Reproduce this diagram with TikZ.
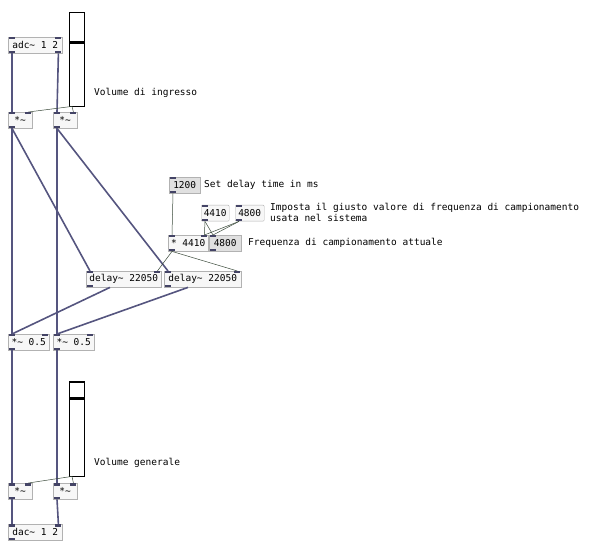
\documentclass[tikz,border=0pt]{standalone}
\usepackage{fontspec}
\setmonofont{DejaVu Sans Mono}
\usetikzlibrary{positioning}
\definecolor{sig}{HTML}{55557F}
\definecolor{ctl}{HTML}{3A4A3A}
\tikzset{
  obj/.style={draw=black!30, fill=black!3, anchor=north west, inner sep=1.5pt,
    minimum height=16pt, font=\ttfamily\fontsize{9.5}{10}\selectfont, align=left},
  numbox/.style={obj, fill=black!12},
  msgbox/.style={obj, rounded corners=1pt},
  label/.style={anchor=north west, inner sep=0pt, font=\ttfamily\fontsize{9.5}{11}\selectfont, align=left},
  signal/.style={draw=sig, line width=1.6pt},
  control/.style={draw=ctl, line width=0.5pt},
  port/.style={fill=sig!80!black}
}
\begin{document}
\begin{tikzpicture}[x=1pt,y=-1pt]
\useasboundingbox (0,0) rectangle (611,556);

% objects
\node[obj, minimum width=54pt] (adc) at (8,37) {adc\~{} 1 2};
\node[obj, minimum width=24pt] (multL) at (8,112) {*\~{}};
\node[obj, minimum width=24pt] (multR) at (53,112) {*\~{}};
\node[numbox, minimum width=31pt] (dtime) at (169,177) {1200};
\node[msgbox, minimum width=28pt] (msgA) at (201,205) {4410};
\node[msgbox, minimum width=29pt] (msgB) at (235,205) {4800};
\node[obj, minimum width=40pt] (sr) at (168,235) {* 4410};
\node[numbox, minimum width=32pt] (srnum) at (209,235) {4800};
\node[obj, minimum width=75pt] (delL) at (86,271) {delay\~{} 22050};
\node[obj, minimum width=77pt] (delR) at (164,271) {delay\~{} 22050};
\node[obj, minimum width=41pt] (fbL) at (8,334) {*\~{} 0.5};
\node[obj, minimum width=41pt] (fbR) at (53,334) {*\~{} 0.5};
\node[obj, minimum width=24pt] (outL) at (8,483) {*\~{}};
\node[obj, minimum width=24pt] (outR) at (53,483) {*\~{}};
\node[obj, minimum width=54pt] (dac) at (8,524) {dac\~{} 1 2};

% sliders
\node[draw, fill=white, anchor=north west, minimum width=15pt, minimum height=94pt, inner sep=0pt] (volIn) at (69,12) {};
\node[draw, fill=white, anchor=north west, minimum width=15pt, minimum height=95pt, inner sep=0pt] (volOut) at (69,381) {};
\fill (69,41) rectangle (84,44);
\fill (69,397) rectangle (84,400);
\fill (69,12) rectangle (84,13.5);
\fill (69,381) rectangle (84,382.5);

% ports
\foreach \o in {adc,multL,multR,dtime,msgA,msgB,sr,srnum,delL,delR,fbL,fbR,outL,outR,dac}{
  \fill[port] ([xshift=1pt]\o.north west) rectangle ++(6,2.5);
  \fill[port] ([xshift=1pt]\o.south west) rectangle ++(6,-2.5);
}
\foreach \o in {adc,multL,multR,sr,delL,delR,fbL,fbR,outL,outR,dac}
  \fill[port] ([xshift=-1pt]\o.north east) rectangle ++(-6,2.5);
\fill[port] ([xshift=-1pt]adc.south east) rectangle ++(-6,-2.5);

% signal connections
\path[signal] ([xshift=4pt]adc.south west) -- ([xshift=4pt]multL.north west);
\path[signal] ([xshift=-4pt]adc.south east) -- ([xshift=4pt]multR.north west);
\path[signal] ([xshift=4pt]multL.south west) -- ([xshift=4pt]fbL.north west);
\path[signal] ([xshift=4pt]multL.south west) -- ([xshift=4pt]delL.north west);
\path[signal] ([xshift=4pt]multR.south west) -- ([xshift=4pt]fbR.north west);
\path[signal] ([xshift=4pt]multR.south west) -- ([xshift=4pt]delR.north west);
\path[signal] ([xshift=24pt]delL.south west) -- ([xshift=4pt]fbL.north west);
\path[signal] ([xshift=24pt]delR.south west) -- ([xshift=4pt]fbR.north west);
\path[signal] ([xshift=4pt]fbL.south west) -- ([xshift=4pt]outL.north west);
\path[signal] ([xshift=4pt]fbR.south west) -- ([xshift=4pt]outR.north west);
\path[signal] ([xshift=4pt]outL.south west) -- ([xshift=4pt]dac.north west);
\path[signal] ([xshift=4pt]outR.south west) -- ([xshift=-4pt]dac.north east);

% control connections
\path[control] ([xshift=3pt]volIn.south west) -- ([xshift=-4pt]multL.north east);
\path[control] ([xshift=3pt]volIn.south west) -- ([xshift=-4pt]multR.north east);
\path[control] ([xshift=3pt]volOut.south west) -- ([xshift=-4pt]outL.north east);
\path[control] ([xshift=3pt]volOut.south west) -- ([xshift=-4pt]outR.north east);
\path[control] ([xshift=4pt]dtime.south west) -- ([xshift=4pt]sr.north west);
\path[control] ([xshift=4pt]msgA.south west) -- ([xshift=-4pt]sr.north east);
\path[control] ([xshift=4pt]msgA.south west) -- ([xshift=4pt]srnum.north west);
\path[control] ([xshift=4pt]msgB.south west) -- ([xshift=-4pt]sr.north east);
\path[control] ([xshift=4pt]msgB.south west) -- ([xshift=4pt]srnum.north west);
\path[control] ([xshift=4pt]sr.south west) -- ([xshift=-4pt]delL.north east);
\path[control] ([xshift=4pt]sr.south west) -- ([xshift=-4pt]delR.north east);

% comments
\node[label] (cIn) at (94,88) {Volume di ingresso};
\node[label] (cDel) at (204,180) {Set delay time in ms};
\node[label] (cSr) at (270,203) {Imposta il giusto valore di frequenza di campionamento\\usata nel sistema};
\node[label] (cAct) at (248,238) {Frequenza di campionamento attuale};
\node[label] (cOut) at (94,458) {Volume generale};
\end{tikzpicture}
\end{document}
